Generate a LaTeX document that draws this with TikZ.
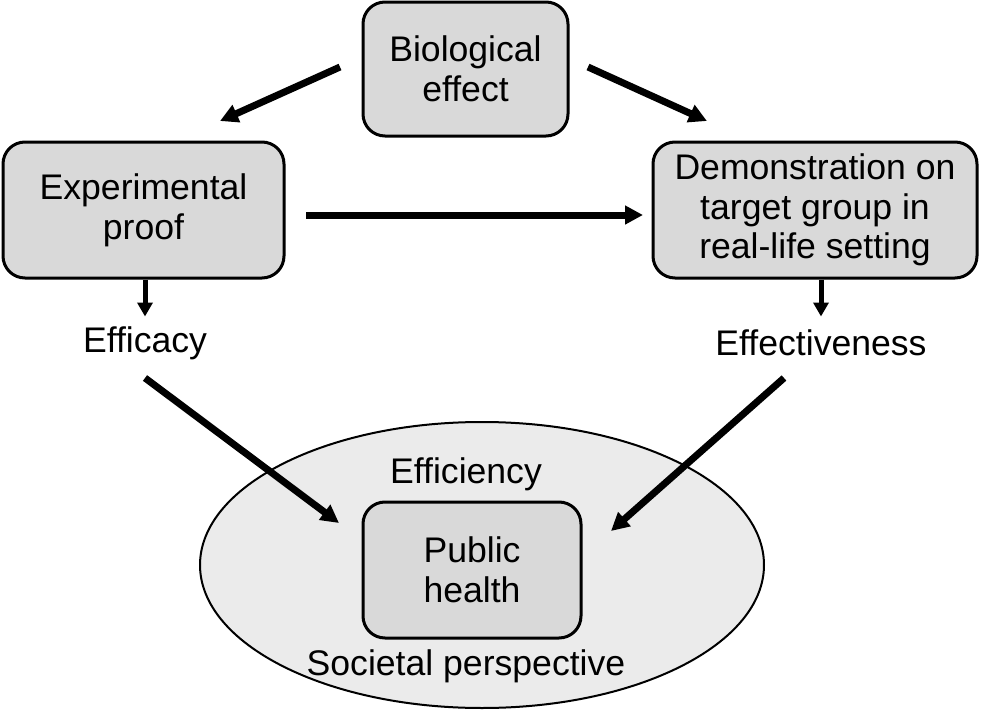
\documentclass[tikz,border=0pt]{standalone}
\usepackage{fontspec}
\setmainfont{Liberation Sans}
\usetikzlibrary{arrows.meta,shapes.geometric}
\definecolor{boxgray}{HTML}{D9D9D9}
\definecolor{ellgray}{HTML}{EBEBEB}
\begin{document}
\begin{tikzpicture}[x=0.5pt,y=-0.5pt,
  box/.style={draw=black,line width=1.5pt,fill=boxgray,rounded corners=11pt,
    align=center,inner sep=0pt,font=\fontsize{17.8pt}{19.8pt}\selectfont},
  lbl/.style={inner sep=0pt,font=\fontsize{17.8pt}{19.8pt}\selectfont},
  bigarrow/.style={line width=3.5pt,-{Triangle[length=9pt,width=9pt]}},
  smallarrow/.style={line width=2.5pt,-{Triangle[length=7pt,width=7.5pt]}}]
\useasboundingbox (0,0) rectangle (992,728);
\node[ellipse,draw=black,line width=1pt,fill=ellgray,minimum width=282pt,minimum height=143pt,inner sep=0pt] (ell) at (482,565) {};
\node[box,minimum width=102.5pt,minimum height=67pt] (bio) at (465.5,69) {Biological\\effect};
\node[box,minimum width=140.5pt,minimum height=68pt] (exp) at (143.5,210) {Experimental\\proof};
\node[box,minimum width=162pt,minimum height=68pt] (demo) at (815,210) {Demonstration on\\target group in\\real-life setting};
\node[box,minimum width=109pt,minimum height=68pt] (pub) at (472,570) {Public\\health};
\node[lbl] (efficacy) at (145,343) {Efficacy};
\node[lbl] (effect) at (821,343) {Effectiveness};
\node[lbl] (efficiency) at (466,474) {Efficiency};
\node[lbl] (soc) at (466,666) {Societal perspective};
\coordinate (a1s) at (340,67);
\coordinate (a1e) at (220,121);
\coordinate (a2s) at (588,67);
\coordinate (a2e) at (707,121);
\coordinate (a3s) at (306,215);
\coordinate (a3e) at (643,215);
\coordinate (a4s) at (145,378);
\coordinate (a4e) at (339,523);
\coordinate (a5s) at (784,378);
\coordinate (a5e) at (611,531);
\draw[bigarrow] (a1s) -- (a1e);
\draw[bigarrow] (a2s) -- (a2e);
\draw[bigarrow] (a3s) -- (a3e);
\draw[bigarrow] (a4s) -- (a4e);
\draw[bigarrow] (a5s) -- (a5e);
\draw[smallarrow] (exp.south -| efficacy) -- ++(0,37);
\draw[smallarrow] (demo.south -| effect) -- ++(0,37);
\end{tikzpicture}
\end{document}
